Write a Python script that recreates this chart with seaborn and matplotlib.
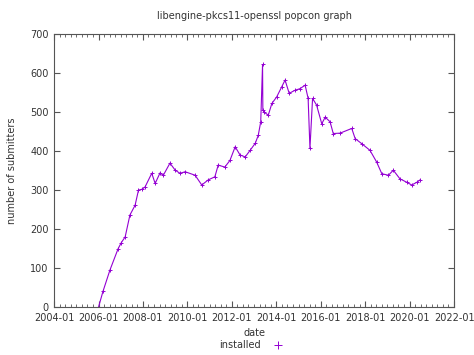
import numpy as np
import pandas as pd
import matplotlib
matplotlib.use('Agg')
import matplotlib.pyplot as plt
import matplotlib.dates as mdates
import seaborn as sns

# popcon values
dates = ['2006-01-01', '2006-03-15', '2006-07-08', '2006-11-20', '2007-01-10',
         '2007-03-15', '2007-06-01', '2007-08-25', '2007-10-20', '2007-12-15',
         '2008-02-05', '2008-05-25', '2008-07-20', '2008-10-08', '2008-12-01',
         '2009-03-20', '2009-06-15', '2009-09-01', '2009-11-25', '2010-05-08',
         '2010-08-25', '2010-12-08', '2011-03-28', '2011-05-22', '2011-09-08',
         '2011-12-01', '2012-02-25', '2012-05-15', '2012-08-08', '2012-10-28',
         '2013-01-20', '2013-03-10', '2013-04-20', '2013-05-20', '2013-05-25',
         '2013-06-15', '2013-08-22', '2013-10-20', '2014-01-08', '2014-04-01',
         '2014-05-25', '2014-08-01', '2014-11-05', '2015-01-25', '2015-04-20',
         '2015-06-08', '2015-07-08', '2015-08-20', '2015-10-25', '2016-01-18',
         '2016-03-15', '2016-06-03', '2016-07-25', '2016-11-15', '2017-05-25',
         '2017-07-20', '2017-11-05', '2018-03-20', '2018-07-08', '2018-10-01',
         '2019-01-18', '2019-04-08', '2019-07-25', '2019-11-15', '2020-02-05',
         '2020-04-28', '2020-06-20']
installed = [0, 40, 95, 150, 165,
             180, 236, 261, 300, 302,
             308, 343, 317, 344, 338,
             369, 351, 343, 347, 338,
             313, 326, 334, 364, 359,
             376, 411, 390, 385, 402,
             420, 440, 475, 622, 505,
             500, 492, 522, 539, 565,
             582, 548, 556, 560, 569,
             535, 407, 535, 518, 470,
             487, 475, 445, 446, 458,
             432, 419, 402, 372, 342,
             338, 351, 329, 320, 313,
             320, 326]

df = pd.DataFrame({'date': pd.to_datetime(dates), 'installed': installed})
col = '#9400d3'
txt = '#333333'

plt.rcParams['font.family'] = ['DejaVu Sans']
fig = plt.figure(figsize=(4.74, 3.55), dpi=100)
ax = fig.add_axes([0.114, 0.135, 0.844, 0.769])

sns.lineplot(data=df, x='date', y='installed', ax=ax, color=col, lw=0.8)
sns.scatterplot(data=df, x='date', y='installed', ax=ax, color=col, marker='+',
                s=9, linewidth=0.7, legend=False)

ax.set_xlim(pd.Timestamp('2004-01-01'), pd.Timestamp('2022-01-01'))
ax.set_ylim(0, 700)
ax.set_yticks(range(0, 701, 100))
ax.xaxis.set_major_locator(mdates.YearLocator(2, month=1, day=1))
ax.xaxis.set_major_formatter(mdates.DateFormatter('%Y-%m'))
ax.xaxis.set_minor_locator(mdates.MonthLocator(bymonth=[1, 4, 7, 10]))
ax.tick_params(which='both', direction='in', top=True, right=True, labelsize=7,
               colors='#555555', labelcolor=txt)
ax.tick_params(which='major', length=4, pad=4)
ax.tick_params(which='minor', length=2)
for s in ax.spines.values():
    s.set_color('#555555')
    s.set_linewidth(0.8)

ax.set_title('libengine-pkcs11-openssl popcon graph', fontsize=7, pad=11, color=txt)
ax.set_xlabel('date', fontsize=7, labelpad=4, color=txt)
ax.set_ylabel('number of submitters', fontsize=7, labelpad=9, color=txt)

h = [plt.Line2D([], [], color=col, marker='+', ls='none', markersize=6, mew=0.7)]
fig.legend(h, ['installed'], loc='center', bbox_to_anchor=(0.535, 0.028), frameon=False,
           markerfirst=False, fontsize=7, handletextpad=0.8, borderpad=0,
           labelcolor=txt)

fig.savefig('out.png', dpi=100)
